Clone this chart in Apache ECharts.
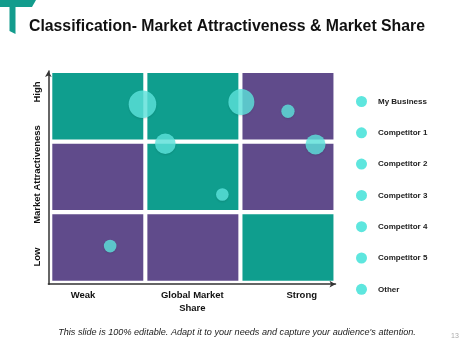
<!DOCTYPE html>
<html>
<head>
<meta charset="utf-8">
<script src="https://cdn.jsdelivr.net/npm/echarts@6/dist/echarts.min.js"></script>
<style>
html,body{margin:0;padding:0;background:#fff;}
#chart{width:474px;height:355px;}
</style>
</head>
<body>
<div id="chart"></div>
<script>
// ---- data ----
const titleText = 'Classification- Market Attractiveness & Market Share';
const footerText = "This slide is 100% editable. Adapt it to your needs and capture your audience's attention.";
const pageNumber = '13';
const xTickLabels = ['Weak', 'Global Market\nShare', 'Strong'];
const yTickLabels = ['Low', 'Market Attractiveness', 'High'];
const seriesNames = ['My Business', 'Competitor 1', 'Competitor 2', 'Competitor 3', 'Competitor 4', 'Competitor 5', 'Other'];
// market share (x), attractiveness (y), bubble size
const shareValues = [0.47, 1.51, 2.00, 0.71, 2.29, 1.31, 0.13];
const attractValues = [2.03, 2.06, 1.93, 1.47, 1.46, 0.75, 0.02];
const bubbleSizes = [27.6, 26, 13.3, 20.6, 20, 12.6, 12.6];
// matrix cells: [column, row, colour index]  (0 = teal, 1 = purple)
const cellCols = [0, 1, 2, 0, 1, 2, 0, 1, 2];
const cellRows = [2, 2, 2, 1, 1, 1, 0, 0, 0];
const cellKinds = [0, 0, 1, 1, 0, 1, 1, 1, 0];

// ---- styles ----
const TEAL = '#0f9e8e';
const PURPLE = '#604b8b';
const BUBBLE = '#5ee6de';
const cellColors = [TEAL, PURPLE];
const FONT = '"Liberation Sans", Arial, sans-serif';

const chart = echarts.init(document.getElementById('chart'), null, {renderer: 'canvas'});

const cellData = cellCols.map((c, i) => [c, cellRows[i], cellKinds[i]]);

const bubbleSeries = seriesNames.map((name, i) => ({
  name: name,
  type: 'scatter',
  xAxisIndex: 0, yAxisIndex: 0,
  z: 5,
  data: [[shareValues[i], attractValues[i], bubbleSizes[i]]],
  symbolSize: v => v[2],
  itemStyle: {color: BUBBLE, opacity: 0.8, shadowColor: 'rgba(0,0,0,0.15)', shadowBlur: 2, shadowOffsetY: 1}
}));

const option = {
  animation: false,
  title: [
    {text: titleText, left: 29, top: 18.5, padding: 0,
     textStyle: {fontFamily: FONT, fontWeight: 'bold', fontSize: 15.8, color: '#111'}},
    {text: footerText, left: 'center', top: 328, padding: 0,
     textStyle: {fontFamily: FONT, fontStyle: 'italic', fontWeight: 'normal', fontSize: 9.1, color: '#222'}},
    {text: pageNumber, left: 451, top: 333, padding: 0,
     textStyle: {fontFamily: FONT, fontWeight: 'normal', fontSize: 7, color: '#aaa'}}
  ],
  legend: {
    orient: 'vertical',
    left: 351, top: 91,
    itemWidth: 23, itemHeight: 11, itemGap: 20.3,
    icon: 'circle',
    itemStyle: {opacity: 1, color: BUBBLE},
    textStyle: {fontFamily: FONT, fontWeight: 'bold', fontSize: 8, color: '#222'},
    data: seriesNames
  },
  graphic: [
    {type: 'polygon', shape: {points: [[0, 0], [36, 0], [32, 7], [0, 7]]}, style: {fill: '#139c8d'}},
    {type: 'polygon', shape: {points: [[9.5, 6], [15.5, 6], [15.5, 34], [9.5, 31]]}, style: {fill: '#139c8d'}}
  ],
  grid: [
    {left: 48.35, width: 287.15, top: 71, height: 213.2},
    {left: 28.35, width: 328, top: 71, height: 213.2},
    {left: 48.35, width: 287.15, top: 50.75, height: 247.5}
  ],
  xAxis: [
    {type: 'value', gridIndex: 0, min: -0.52, max: 2.5,
     axisLine: {show: true, onZero: false, lineStyle: {color: '#333', width: 1.5}, symbol: ['none', 'arrow'], symbolSize: [5, 6]},
     axisTick: {show: false}, axisLabel: {show: false}, splitLine: {show: false}},
    {type: 'category', gridIndex: 1, data: xTickLabels, boundaryGap: true,
     axisLine: {show: false, onZero: false}, axisTick: {show: false}, splitLine: {show: false},
     axisLabel: {show: true, interval: 0, margin: 5, fontFamily: FONT, fontWeight: 'bold', fontSize: 9.5, color: '#111', lineHeight: 12.5}},
    {type: 'value', gridIndex: 2, show: false}
  ],
  yAxis: [
    {type: 'value', gridIndex: 0, min: -0.52, max: 2.5,
     axisLine: {show: true, onZero: false, lineStyle: {color: '#333', width: 1.5}, symbol: ['none', 'arrow'], symbolSize: [5, 6]},
     axisTick: {show: false}, axisLabel: {show: false}, splitLine: {show: false}},
    {type: 'value', gridIndex: 1, show: false},
    {type: 'category', gridIndex: 2, data: yTickLabels, boundaryGap: true,
     axisLine: {show: false, onZero: false}, axisTick: {show: false}, splitLine: {show: false},
     axisLabel: {show: true, interval: 0, rotate: 90, margin: 6, fontFamily: FONT, fontWeight: 'bold', fontSize: 9.5, color: '#111', verticalAlign: 'bottom', align: 'center'}}
  ],
  series: [
    {
      type: 'custom',
      xAxisIndex: 0, yAxisIndex: 0,
      z: 1,
      data: cellData,
      renderItem: function (params, api) {
        const c = api.coord([api.value(0), api.value(1)]);
        const s = api.size([0.957, 0.94]);
        return {
          type: 'rect',
          shape: {x: c[0] - s[0] / 2, y: c[1] - s[1] / 2, width: s[0], height: s[1]},
          style: {fill: cellColors[api.value(2)]}
        };
      }
    }
  ].concat(bubbleSeries)
};
chart.setOption(option);
</script>
</body>
</html>
